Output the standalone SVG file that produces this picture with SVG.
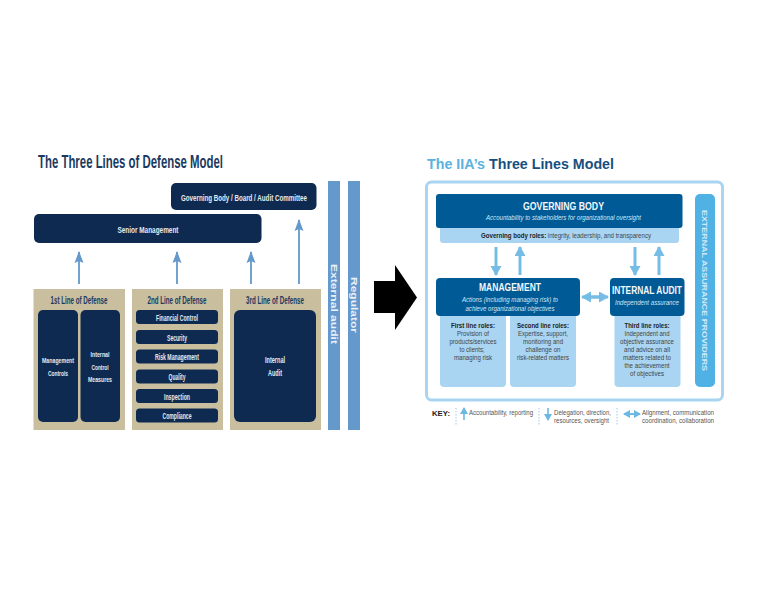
<svg xmlns="http://www.w3.org/2000/svg" width="768" height="594" viewBox="0 0 768 594">
<style>
text{font-family:"Liberation Sans",Arial,sans-serif}
.c{text-anchor:middle}
.n{font-family:"Liberation Sans Narrow","Liberation Sans",sans-serif;font-weight:700;font-size:9.500px;fill:#e6ebf2;text-anchor:middle}
.s{font-size:8px}
.navy{fill:#0f2a50}
.tan{fill:#c9bf9f}
.hd{font-family:"Liberation Sans Narrow","Liberation Sans",sans-serif;font-weight:700;font-size:11px;fill:#1c3a5f;text-anchor:middle}
.bar{fill:#6598cb}
.barT{font-weight:700;font-size:9px;fill:#e8f0f8;text-anchor:middle}
.blue{fill:#005a96}
.pale{fill:#a9d5f2}
.wh{fill:#f2f8fc;font-weight:700;text-anchor:middle;font-size:10px}
.it{fill:#cfe6f5;font-style:italic;font-size:6.500px;text-anchor:middle}
.b{font-size:6.500px;fill:#444;text-anchor:middle}
.bb{font-size:6.500px;fill:#222;font-weight:700;text-anchor:middle}
.k{font-size:6.500px;fill:#555}
.old{stroke:#6598cb;stroke-width:1.800;fill:none;marker-end:url(#oh)}
.neu{stroke:#76bde5;stroke-width:3;fill:none;marker-end:url(#nh)}
.thin{stroke:#6bb8e2;stroke-width:1.600;fill:none;marker-end:url(#kh)}
.dot{stroke:#9ccbe8;stroke-width:1;stroke-dasharray:1.500 1.500;fill:none}
</style>
<defs>
<marker id="oh" markerUnits="userSpaceOnUse" markerWidth="13" markerHeight="10" refX="11" refY="5" orient="auto"><path d="M0 0.500L12 5L0 9.500L2 5Z" fill="#6598cb"/></marker>
<marker id="nh" markerUnits="userSpaceOnUse" markerWidth="11" markerHeight="12" refX="9" refY="5.500" orient="auto"><path d="M0 0L10 5.500L0 11Z" fill="#76bde5"/></marker>
<marker id="kh" markerUnits="userSpaceOnUse" markerWidth="8" markerHeight="9" refX="6" refY="4" orient="auto"><path d="M0 0L7 4L0 8Z" fill="#6bb8e2"/></marker>
</defs>
<rect width="768" height="594" fill="#fff"/>

<text x="38" y="168" font-size="19" font-weight="700" fill="#1c3a5f" textLength="185" lengthAdjust="spacingAndGlyphs">The Three Lines of Defense Model</text>

<g id="governing-old"><rect x="171" y="183" width="145.500" height="27" rx="5" class="navy"/><text x="244" y="201" class="n" textLength="126" lengthAdjust="spacingAndGlyphs">Governing Body / Board / Audit Committee</text></g>
<g id="senior"><rect x="34" y="214" width="227.500" height="29" rx="5" class="navy"/><text x="148" y="233" class="n" textLength="61" lengthAdjust="spacingAndGlyphs">Senior Management</text></g>

<g id="line1"><rect x="33.500" y="289" width="91.500" height="141" class="tan"/><text x="79" y="304" class="hd" textLength="57" lengthAdjust="spacingAndGlyphs">1st Line of Defense</text>
<rect x="38" y="310" width="40" height="112" rx="5" class="navy"/><rect x="80.500" y="310" width="39.500" height="112" rx="5" class="navy"/>
<text x="58" y="363" class="n s" textLength="32" lengthAdjust="spacingAndGlyphs">Management</text><text x="58" y="376" class="n s" textLength="20" lengthAdjust="spacingAndGlyphs">Controls</text>
<text x="100" y="357" class="n s" textLength="19" lengthAdjust="spacingAndGlyphs">Internal</text><text x="100" y="369.500" class="n s" textLength="17" lengthAdjust="spacingAndGlyphs">Control</text><text x="100" y="382" class="n s" textLength="24" lengthAdjust="spacingAndGlyphs">Measures</text></g>

<g id="line2"><rect x="132" y="289" width="91" height="141" class="tan"/><text x="177" y="304" class="hd" textLength="59" lengthAdjust="spacingAndGlyphs">2nd Line of Defense</text>
<rect x="136" y="310" width="82" height="14" rx="3.500" class="navy"/><text x="177" y="320.500" class="n" textLength="42" lengthAdjust="spacingAndGlyphs">Financial Control</text>
<rect x="136" y="330" width="82" height="14" rx="3.500" class="navy"/><text x="177" y="340.500" class="n" textLength="20" lengthAdjust="spacingAndGlyphs">Security</text>
<rect x="136" y="349.500" width="82" height="14" rx="3.500" class="navy"/><text x="177" y="360" class="n" textLength="44" lengthAdjust="spacingAndGlyphs">Risk Management</text>
<rect x="136" y="369.500" width="82" height="14" rx="3.500" class="navy"/><text x="177" y="380" class="n" textLength="17" lengthAdjust="spacingAndGlyphs">Quality</text>
<rect x="136" y="389" width="82" height="14" rx="3.500" class="navy"/><text x="177" y="399.500" class="n" textLength="26" lengthAdjust="spacingAndGlyphs">Inspection</text>
<rect x="136" y="408.500" width="82" height="14" rx="3.500" class="navy"/><text x="177" y="419" class="n" textLength="29" lengthAdjust="spacingAndGlyphs">Compliance</text></g>

<g id="line3"><rect x="230" y="289" width="91" height="141" class="tan"/><text x="275" y="304" class="hd" textLength="58" lengthAdjust="spacingAndGlyphs">3rd Line of Defense</text>
<rect x="234" y="310" width="82" height="112" rx="6" class="navy"/>
<text x="275" y="363" class="n" textLength="20" lengthAdjust="spacingAndGlyphs">Internal</text><text x="275" y="376" class="n" textLength="14" lengthAdjust="spacingAndGlyphs">Audit</text></g>

<g id="external-audit"><rect x="328" y="181" width="12" height="249" class="bar"/><text class="barT" transform="translate(331 304) rotate(90)" textLength="80" lengthAdjust="spacingAndGlyphs">External audit</text></g>
<g id="regulator"><rect x="348" y="181" width="12" height="249" class="bar"/><text class="barT" transform="translate(351 305) rotate(90)" textLength="56" lengthAdjust="spacingAndGlyphs">Regulator</text></g>

<g id="old-connectors">
<path class="old" d="M79 284V252"/><path class="old" d="M177 284V252"/><path class="old" d="M251 284V252"/><path class="old" d="M299 284V220"/>
</g>

<g id="big-arrow"><polygon points="374,281 395,281 395,265 417,297.500 395,330 395,313 374,313" fill="#000"/></g>

<text x="427" y="169" font-size="15.500" font-weight="700" fill="#5bb1e0" textLength="187" lengthAdjust="spacingAndGlyphs">The IIA’s <tspan fill="#164f7f">Three Lines Model</tspan></text>

<g id="frame"><rect x="426.500" y="182" width="296" height="218" rx="5" fill="none" stroke="#a9d5f2" stroke-width="3"/></g>

<g id="governing-body"><rect x="440" y="226" width="239" height="17" rx="3" class="pale"/><rect x="436" y="194" width="246.500" height="34" rx="3" class="blue"/>
<text x="563.500" y="210" class="wh" textLength="81" lengthAdjust="spacingAndGlyphs">GOVERNING BODY</text><text x="563.500" y="220" class="it" textLength="155" lengthAdjust="spacingAndGlyphs">Accountability to stakeholders for organizational oversight</text>
<text x="566" y="238" class="b" textLength="170" lengthAdjust="spacingAndGlyphs"><tspan font-weight="700" fill="#222">Governing body roles:</tspan> integrity, leadership, and transparency</text></g>

<g id="first-line"><rect x="440" y="312" width="66" height="75" rx="4" class="pale"/><text x="473" y="328" class="bb" textLength="44" lengthAdjust="spacingAndGlyphs">First line roles:</text><text x="473" y="335.500" class="b" textLength="32" lengthAdjust="spacingAndGlyphs">Provision of</text><text x="473" y="343.500" class="b" textLength="47" lengthAdjust="spacingAndGlyphs">products/services</text><text x="472" y="351.500" class="b" textLength="25" lengthAdjust="spacingAndGlyphs">to clients;</text><text x="473" y="359.500" class="b" textLength="38" lengthAdjust="spacingAndGlyphs">managing risk</text></g>
<g id="second-line"><rect x="510" y="312" width="66" height="75" rx="4" class="pale"/><text x="543" y="328" class="bb" textLength="52" lengthAdjust="spacingAndGlyphs">Second line roles:</text><text x="543" y="335.500" class="b" textLength="50" lengthAdjust="spacingAndGlyphs">Expertise, support,</text><text x="543" y="343.500" class="b" textLength="40" lengthAdjust="spacingAndGlyphs">monitoring and</text><text x="543" y="351.500" class="b" textLength="35" lengthAdjust="spacingAndGlyphs">challenge on</text><text x="543" y="359.500" class="b" textLength="52" lengthAdjust="spacingAndGlyphs">risk-related matters</text></g>
<g id="management"><rect x="436" y="278" width="144" height="38" rx="4" class="blue"/><text x="510" y="291" class="wh" textLength="62" lengthAdjust="spacingAndGlyphs">MANAGEMENT</text><text x="510" y="302" class="it" textLength="96" lengthAdjust="spacingAndGlyphs">Actions (including managing risk) to</text><text x="510" y="311" class="it" textLength="89" lengthAdjust="spacingAndGlyphs">achieve organizational objectives</text></g>

<g id="third-line"><rect x="614.500" y="312" width="66" height="75" rx="4" class="pale"/><text x="647" y="328" class="bb" textLength="45" lengthAdjust="spacingAndGlyphs">Third line roles:</text><text x="647" y="335.500" class="b" textLength="45" lengthAdjust="spacingAndGlyphs">Independent and</text><text x="647" y="343.500" class="b" textLength="54" lengthAdjust="spacingAndGlyphs">objective assurance</text><text x="647" y="351.500" class="b" textLength="46" lengthAdjust="spacingAndGlyphs">and advice on all</text><text x="647" y="359.500" class="b" textLength="48" lengthAdjust="spacingAndGlyphs">matters related to</text><text x="647" y="367.500" class="b" textLength="45" lengthAdjust="spacingAndGlyphs">the achievement</text><text x="647" y="375.500" class="b" textLength="34" lengthAdjust="spacingAndGlyphs">of objectives</text></g>
<g id="internal-audit"><rect x="610" y="278" width="74.500" height="38" rx="4" class="blue"/><text x="647" y="294" class="wh" textLength="70" lengthAdjust="spacingAndGlyphs">INTERNAL AUDIT</text><text x="647" y="305" class="it" textLength="64" lengthAdjust="spacingAndGlyphs">Independent assurance</text></g>

<g id="external-assurance"><rect x="695" y="194" width="20" height="193" rx="5" fill="#4fb1e4"/><text transform="translate(705 290.500) rotate(90)" y="2.800" font-size="8" font-weight="700" fill="#cfe9f8" class="c" textLength="161" lengthAdjust="spacingAndGlyphs">EXTERNAL ASSURANCE PROVIDERS</text></g>

<g id="connectors">
<path class="neu" d="M496 247V275"/><path class="neu" d="M520 275V247"/><path class="neu" d="M635 247V275"/><path class="neu" d="M659 275V247"/>
<path class="neu" d="M590 297H608"/><path class="neu" d="M600 297H582"/>
</g>

<g id="key">
<text x="432" y="416" font-size="7.500" font-weight="700" fill="#222" textLength="18" lengthAdjust="spacingAndGlyphs">KEY:</text>
<path class="dot" d="M456 408V425M539 408V425M617 408V425"/>
<path class="thin" d="M464 420V408"/><text x="469" y="415" class="k" textLength="64" lengthAdjust="spacingAndGlyphs">Accountability, reporting</text>
<path class="thin" d="M548 408V420"/><text x="554" y="415" class="k" textLength="57" lengthAdjust="spacingAndGlyphs">Delegation, direction,</text><text x="554" y="423" class="k" textLength="55" lengthAdjust="spacingAndGlyphs">resources, oversight</text>
<path class="thin" d="M630 414H640"/><path class="thin" d="M634 414H624"/><text x="642" y="415" class="k" textLength="72" lengthAdjust="spacingAndGlyphs">Alignment, communication</text><text x="642" y="423" class="k" textLength="72" lengthAdjust="spacingAndGlyphs">coordination, collaboration</text>
</g>
</svg>
